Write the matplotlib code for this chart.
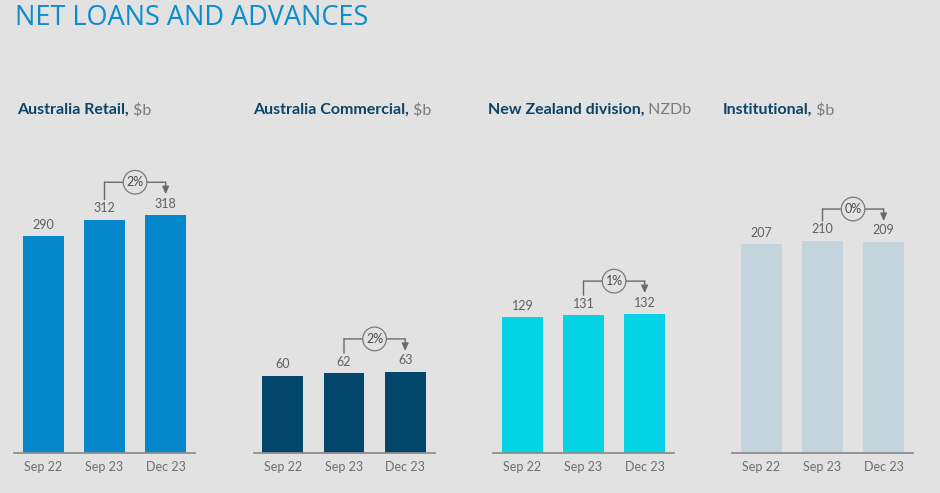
import matplotlib
matplotlib.use("Agg")
import matplotlib.pyplot as plt
from matplotlib.transforms import ScaledTranslation

# data
periods = ["Sep 22", "Sep 23", "Dec 23"]
divisions = ["Australia Retail,", "Australia Commercial,", "New Zealand division,", "Institutional,"]
units = ["$b", "$b", "NZDb", "$b"]
retail = [290, 312, 318]
commercial = [60, 62, 63]
nz = [129, 131, 132]
institutional = [207, 210, 209]
growth = ["2%", "2%", "1%", "0%"]

series = [retail, commercial, nz, institutional]
colors = ["#0487cb", "#03466b", "#04d3e6", "#c3d4dc"]
ymax = [432, 251, 307, 320]   # each panel has its own scale on the slide

BG = "#e2e2e2"
LINE = "#6a6a6a"
plt.rcParams["font.family"] = ["Lato", "DejaVu Sans"]

fig = plt.figure(figsize=(9.4, 4.93), dpi=100)
fig.patch.set_facecolor(BG)
W, H = 940, 493

fig.text(15 / W, 1 - 18 / H, "NET LOANS AND ADVANCES", color="#0a8ccd",
         fontsize=19.5, fontweight="medium", va="center", ha="left",
         family=["Open Sans", "DejaVu Sans"])


def px(dy):
    # vertical offset in pixels
    return ScaledTranslation(0, dy / 100, fig.dpi_scale_trans)


lefts = [14, 253.5, 493, 732]
title_x = [17, 253, 488, 723]
for i, vals in enumerate(series):
    ax = fig.add_axes([lefts[i] / W, 40 / H, 181 / W, 323 / H])
    ax.patch.set_alpha(0)
    x = list(range(len(periods)))
    ax.bar(x, vals, width=0.67, color=colors[i], zorder=2)
    ax.set_xlim(-0.48, 2.48)
    ax.set_ylim(0, ymax[i])
    for s in ["top", "left", "right"]:
        ax.spines[s].set_visible(False)
    ax.spines["bottom"].set_color("#8e8e8e")
    ax.spines["bottom"].set_linewidth(1.3)
    ax.set_yticks([])
    ax.set_xticks(x)
    ax.set_xticklabels(periods, fontsize=9, color="#6d6d6d")
    ax.tick_params(axis="x", length=0, pad=6)

    for xi, v in zip(x, vals):
        ax.annotate(str(v), (xi, v), xytext=(0, 4), textcoords="offset points",
                    ha="center", va="bottom", fontsize=9, color="#5f5f5f")

    # growth bracket Sep 23 -> Dec 23, placed a fixed pixel gap above the bars
    top = vals[2]
    lvl = ax.transData + px(33)
    ax.annotate("", xy=(1, vals[1]), xycoords=ax.transData + px(20),
                xytext=(1, top), textcoords=lvl,
                arrowprops=dict(arrowstyle="-", color=LINE, lw=1, shrinkA=0, shrinkB=0))
    ax.annotate("", xy=(2, top), xycoords=lvl, xytext=(1, top), textcoords=lvl,
                arrowprops=dict(arrowstyle="-", color=LINE, lw=1, shrinkA=0, shrinkB=0))
    ax.annotate("", xy=(2, top), xycoords=ax.transData + px(21),
                xytext=(2, top), textcoords=lvl,
                arrowprops=dict(arrowstyle="-|>,head_length=0.45,head_width=0.2",
                                color=LINE, lw=1, shrinkA=0, shrinkB=0))
    ax.text(1.5, top, growth[i], transform=lvl, ha="center", va="center",
            fontsize=9, color="#4a4a4a", zorder=5,
            bbox=dict(boxstyle="circle,pad=0.26", fc=BG, ec="#7a7a7a", lw=0.9))

    # panel title: bold division name + grey unit
    t = fig.text(title_x[i] / W, 1 - 110 / H, divisions[i], fontsize=11.5,
                 fontweight="bold", color="#0b4468", va="center", ha="left")
    ax.annotate(" " + units[i].replace("$", r"\$"), xy=(1, 0.5), xycoords=t,
                fontsize=11.5, color="#7b7b7b", va="center", ha="left")

fig.savefig("out.png", dpi=100, facecolor=BG)
